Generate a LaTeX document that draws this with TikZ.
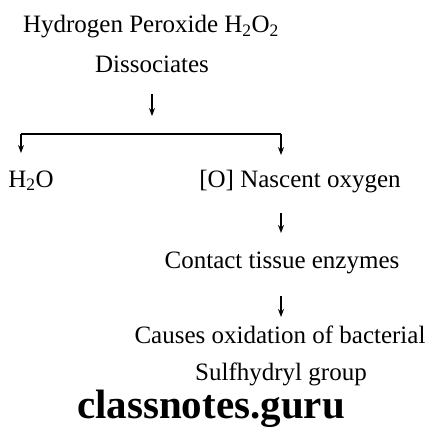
\documentclass[tikz,border=0pt]{standalone}
\usepackage{fontspec}
\setmainfont{Liberation Serif}
\usetikzlibrary{arrows.meta}

\begin{document}
\begin{tikzpicture}[x = 1pt, y = -1pt, line width = 1.2pt,
                        txt/.style = {anchor = base, inner sep = 0pt, font = \fontsize{25}{30}\selectfont},
                        arr/.style = {-{Stealth[length = 8pt, width = 6pt]}}]
      \useasboundingbox (0, 0) rectangle (440, 444);
      \node [txt] (n1) at (151, 33){Hydrogen Peroxide H\textsubscript{2}O\textsubscript{2}};
      \node [txt] (n2) at (152, 73){Dissociates};
      \node [txt] (n3) at (31, 187){H\textsubscript{2}O};
      \node [txt] (n4) at (300, 187){[O] Nascent oxygen};
      \node [txt] (n5) at (282, 268){Contact tissue enzymes};
      \node [txt] (n6) at (280, 343){Causes oxidation of bacterial};
      \node [txt] (n7) at (281, 380){Sulfhydryl group};
      \node [anchor = base, inner sep = 0pt, font = \fontsize{41}{48}\selectfont\bfseries] (n8) at (211, 418){classnotes.guru};
      \coordinate (c1) at (152, 94);
      \coordinate (c2) at (152, 116);
      \coordinate (c3) at (21, 134);
      \coordinate (c4) at (21, 153);
      \coordinate (c5) at (281, 134);
      \coordinate (c6) at (281, 155);
      \coordinate (c7) at (281, 213);
      \coordinate (c8) at (281, 233);
      \coordinate (c9) at (281, 296);
      \coordinate (c10) at (281, 317);
      \draw [arr] (c1) -- (c2);
      \draw (c4 |- c3) -- (c5);
      \draw [arr] (c3) -- (c4);
      \draw [arr] (c5) -- (c6);
      \draw [arr] (c7) -- (c8);
      \draw [arr] (c9) -- (c10);
    \end{tikzpicture}
\end{document}
